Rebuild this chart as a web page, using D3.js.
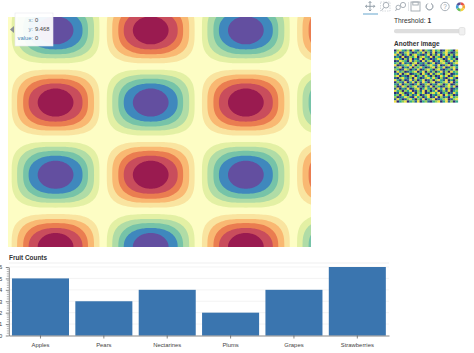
<!DOCTYPE html>
<html><head><meta charset="utf-8">
<script src="https://cdnjs.cloudflare.com/ajax/libs/d3/7.8.5/d3.min.js"></script>
<style>html,body{margin:0;padding:0;background:#fff;overflow:hidden}svg{display:block;font-family:"Liberation Sans",Arial,sans-serif}</style>
</head><body><svg id="c" width="474" height="353"></svg>
<script>
// Bar chart data
const fruits = ["Apples","Pears","Nectarines","Plums","Grapes","Strawberries"];
const counts = [5,3,4,2,4,6];
const countTicks = [0,1,2,3,4,5,6];
// Contour image: lobe centres (data units)
const lobeCols = [1.57,4.71,7.85,10.99];
const lobeRows = [9.42,6.28,3.14,0];
const lobeSigns = [[-1,1,-1,1],[1,-1,1,-1],[-1,1,-1,1],[1,-1,1,-1]];
// nested contour bands, outermost first (half sizes in data units)
const bandHalfW = [1.45,1.27,1.07,0.89,0.59];
const bandHalfH = [1.43,1.22,1.04,0.83,0.61];
const bandPower = [3.4,3.0,2.6,2.3,2.0];
const warmBands = ["#f9e4a0","#f9b872","#ea7d50","#c94d5c","#9a1b50"];
const coolBands = ["#e3f0a4","#b0dca6","#76c3a8","#3f88bd","#634fa0"];
const imageBg = "#fdfdc4";
// Small noise image, estimated cell by cell (0..4 on viridis)
const noiseRows = [
"0342130421403214230143204",
"2401342013240314021342013",
"4130240342102403140240314",
"1204013240342140320413202",
"3420314021403201243014230",
"0143204132041340214302413",
"2304120340213024013420134",
"4012342403102342140134021",
"1340214032420134032401342",
"3201430214013420341023140",
"0423012340240313024130423",
"2140340123042041342034012",
"3402103402314203014240134",
"1034213042013424203103420",
"4203014130240130342140203",
"0321402403142034012341402",
"2140231024013402143024013",
"3014302341203140320134240",
"1402140134024213042403012",
"4230324013140302401314023",
"0143012403240134240230142",
"2304203124013402134042301",
"3012431042302401403120423",
"1420134203140234012340134",
"4023402314023102340241302"];
const thresholdValue = "1";
const tooltipRows = [["x:","0"],["y:","9.468"],["value:","0"]];

const svg = d3.select("#c");
// ---------- main image
const x = d3.scaleLinear().domain([0,10]).range([8,311]);
const y = d3.scaleLinear().domain([0,10]).range([247,17]);
svg.append("clipPath").attr("id","pc").append("rect")
  .attr("x",x(0)).attr("y",y(10)).attr("width",x(10)-x(0)).attr("height",y(0)-y(10));
const img = svg.append("g").attr("clip-path","url(#pc)");
img.append("rect").attr("x",x(0)).attr("y",y(10)).attr("width",x(10)-x(0)).attr("height",y(0)-y(10)).attr("fill",imageBg);
const angles = d3.range(0,72).map(i=>i*Math.PI/36);
const blob = (cx,cy,hw,hh,p)=>d3.line().curve(d3.curveCardinalClosed)(angles.map(t=>{
  const c=Math.cos(t), s=Math.sin(t);
  return [x(cx+hw*Math.sign(c)*Math.pow(Math.abs(c),2/p)), y(cy+hh*Math.sign(s)*Math.pow(Math.abs(s),2/p))];
}));
lobeRows.forEach((ry,ri)=>lobeCols.forEach((cx,ci)=>{
  const cols = lobeSigns[ri][ci]>0?warmBands:coolBands;
  bandHalfW.forEach((hw,i)=>{
    img.append("path").attr("d",blob(cx,ry,hw,bandHalfH[i],bandPower[i])).attr("fill",cols[i]);
  });
}));

// ---------- tooltip
const tip = svg.append("g");
tip.append("path").attr("d",d3.line()([[14,26],[14,33],[10,29.5]])).attr("fill","#8a8f96");
tip.append("rect").attr("x",15).attr("y",13).attr("width",38).attr("height",33).attr("fill","#fff").attr("fill-opacity",.93).attr("stroke","#e6e6ee").attr("stroke-width",.6);
tooltipRows.forEach((r,i)=>{
  const ty=22+i*9;
  tip.append("text").attr("x",33).attr("y",ty).attr("text-anchor","end").attr("font-size",5.8).attr("fill",i==2?"#3d7fb5":"#6f8fb0").text(r[0]);
  tip.append("text").attr("x",35).attr("y",ty).attr("font-size",5.8).attr("fill","#444").text(r[1]);
});

// ---------- toolbar
const tb = svg.append("g").attr("fill","none").attr("stroke","#a0a8b0").attr("stroke-width",.9);
tb.append("line").attr("x1",363).attr("x2",378).attr("y1",14).attr("y2",14).attr("stroke","#7fb4d6").attr("stroke-width",1.2);
// pan
tb.append("path").attr("d","M370 1.5V11M365.5 6.3H374.8M368.6 3L370 1.5L371.4 3M368.6 9.6L370 11L371.4 9.6M367 4.9L365.5 6.3L367 7.7M373.4 4.9L374.8 6.3L373.4 7.7").attr("stroke","#8a97a2");
// box zoom
tb.append("rect").attr("x",380.5).attr("y",2).attr("width",9.5).attr("height",9).attr("stroke","#d4d8dc").attr("stroke-dasharray","1.5 1");
tb.append("circle").attr("cx",386).attr("cy",5.2).attr("r",2.8);
tb.append("line").attr("x1",384).attr("y1",7.4).attr("x2",381.5).attr("y2",10.5);
// wheel zoom
tb.append("circle").attr("cx",398.2).attr("cy",7.4).attr("r",2.2);
tb.append("circle").attr("cx",403).attr("cy",5).attr("r",2.6);
tb.append("line").attr("x1",396.6).attr("y1",9).attr("x2",395.5).attr("y2",11);
// separator
tb.append("line").attr("x1",408.5).attr("x2",408.5).attr("y1",2).attr("y2",11).attr("stroke","#dfe2e5");
// save
tb.append("rect").attr("x",411).attr("y",2).attr("width",9).attr("height",9);
tb.append("rect").attr("x",412.8).attr("y",2).attr("width",5.4).attr("height",3);
// reset
tb.append("path").attr("d",d3.arc()({innerRadius:3.4,outerRadius:3.4,startAngle:.5,endAngle:5.7})).attr("transform","translate(429.5,6.5)");
// help
tb.append("circle").attr("cx",445).attr("cy",6.5).attr("r",4.2);
svg.append("text").attr("x",445).attr("y",8.8).attr("text-anchor","middle").attr("font-size",6.5).attr("fill","#a0a8b0").text("?");
// logo
const logoColors=["#e8534a","#f4a63a","#f6d23c","#6cbf5a","#3f9fd8","#5a4f95"];
d3.pie().value(1)(logoColors).forEach((d,i)=>{
  svg.append("path").attr("transform","translate(460.5,6.8)")
    .attr("d",d3.arc().innerRadius(2).outerRadius(4.6)(d)).attr("fill",d.data);
});

// ---------- slider + small image
const ctl = svg.append("g").attr("font-size",6.7).attr("fill","#333");
const thr = ctl.append("text").attr("x",394).attr("y",23.3);
thr.append("tspan").text("Threshold: ");
thr.append("tspan").attr("font-weight","bold").text(thresholdValue);
ctl.append("rect").attr("x",394).attr("y",29).attr("width",70).attr("height",4.2).attr("rx",2).attr("fill","#dedede");
ctl.append("rect").attr("x",459).attr("y",27.5).attr("width",6).attr("height",7.5).attr("rx",1.5).attr("fill","#f0f0f0").attr("stroke","#d0d0d0").attr("stroke-width",.5);
ctl.append("text").attr("x",394).attr("y",46).attr("font-size",6.5).attr("font-weight","bold").text("Another image");

const nCols = d3.range(noiseRows[0].length), nRows = d3.range(noiseRows.length);
const nx = d3.scaleBand().domain(nCols).range([394,458]);
const ny = d3.scaleBand().domain(nRows).range([49.5,102.5]);
const nc = d3.scaleOrdinal().domain([0,1,2,3,4]).range(["#2c2a72","#28608c","#2fa98a","#8fd14f","#f0e040"]);
svg.append("g").selectAll("rect").data(d3.cross(nRows,nCols)).join("rect")
  .attr("x",d=>nx(d[1])).attr("y",d=>ny(d[0])).attr("width",nx.bandwidth()+.1).attr("height",ny.bandwidth()+.1)
  .attr("fill",d=>nc(+noiseRows[d[0]][d[1]]));

// ---------- bar chart
const bx = d3.scaleBand().domain(fruits).range([8.8,389]).paddingInner(.1).paddingOuter(.05);
const by = d3.scaleLinear().domain([0,6]).range([335.5,267]);
const bar = svg.append("g");
bar.append("text").attr("x",9).attr("y",260).attr("font-size",6.4).attr("font-weight","bold").attr("fill","#333").text("Fruit Counts");
bar.append("line").attr("x1",8.8).attr("x2",389).attr("y1",263).attr("y2",263).attr("stroke","#e8e8e8").attr("stroke-width",.7);
countTicks.slice(1).forEach(t=>bar.append("line").attr("x1",8.8).attr("x2",389).attr("y1",by(t)).attr("y2",by(t)).attr("stroke","#efefef").attr("stroke-width",.7));
bar.selectAll("rect.b").data(fruits).join("rect").attr("class","b")
  .attr("x",d=>bx(d)).attr("width",bx.bandwidth())
  .attr("y",(d,i)=>by(counts[i])).attr("height",(d,i)=>by(0)-by(counts[i])).attr("fill","#3a75af");
const xa = bar.append("g").attr("transform",`translate(0,${by(0)})`).call(d3.axisBottom(bx).tickSize(3).tickSizeOuter(0));
xa.selectAll("text").attr("font-size",5.9).attr("fill","#444").attr("dy","0.9em").attr("font-family","Liberation Sans");
xa.selectAll("path,line").attr("stroke","#555").attr("stroke-width",.7);
const ya = bar.append("g").attr("transform","translate(8.8,0)").call(d3.axisLeft(by).tickValues(countTicks).tickFormat(d3.format("d")).tickSize(3).tickSizeOuter(0));
ya.selectAll("text").attr("font-size",5.9).attr("fill","#444").attr("x",-6.5).attr("font-family","Liberation Sans");
ya.selectAll("path,line").attr("stroke","#555").attr("stroke-width",.7);
const minor = d3.range(0,6.01,.2).filter(v=>Math.abs(v-Math.round(v))>.01);
bar.append("g").selectAll("line").data(minor).join("line")
  .attr("x1",8.8).attr("x2",6.8).attr("y1",d=>by(d)).attr("y2",d=>by(d)).attr("stroke","#666").attr("stroke-width",.5);
</script></body></html>
